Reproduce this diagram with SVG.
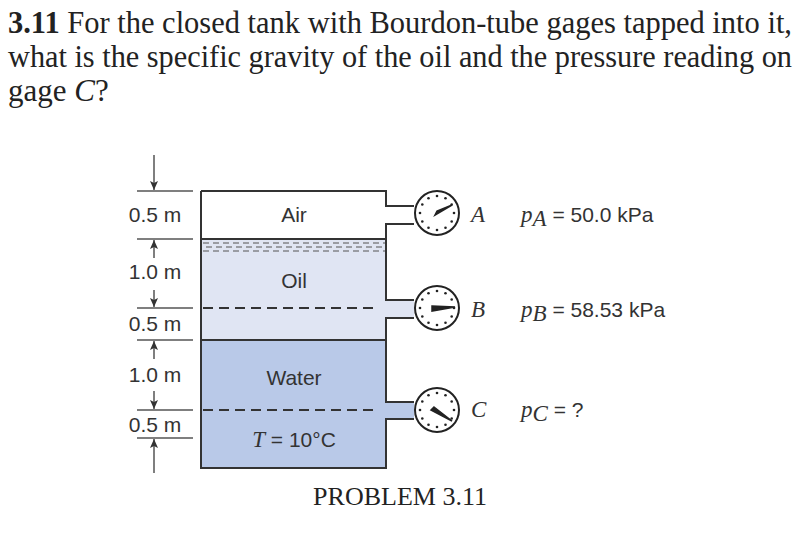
<svg xmlns="http://www.w3.org/2000/svg" width="799" height="542" viewBox="0 0 799 542">
<style>
.t{font-family:"Liberation Serif","Times New Roman",serif;font-size:31px;fill:#222}
.s{font-family:"Liberation Sans",Arial,sans-serif;font-size:21px;fill:#333}
.i{font-family:"Liberation Serif","Times New Roman",serif;font-style:italic;font-size:23px;fill:#333}
.ln{stroke:#333;stroke-width:2;fill:none}
.dm{stroke:#555;stroke-width:1.5;fill:none}
.ds{stroke:#333;stroke-width:1.8;stroke-dasharray:10 6;fill:none}
.g{fill:#fff;stroke:#222;stroke-width:2}
.dot{fill:#222}
</style>
<defs>
<marker id="ar" markerWidth="10" markerHeight="10" refX="9" refY="5" orient="auto" markerUnits="userSpaceOnUse">
<path d="M0,1 L9,5 L0,9 L2,5 Z" fill="#333"/>
</marker>
<g id="gauge">
<circle r="22" class="g"/>
<g class="dot">
<circle cx="0" cy="-17" r="1.3"/><circle cx="8.5" cy="-14.7" r="1.3"/><circle cx="14.7" cy="-8.5" r="1.3"/><circle cx="17" cy="0" r="1.3"/><circle cx="14.7" cy="8.5" r="1.3"/><circle cx="8.5" cy="14.7" r="1.3"/><circle cx="0" cy="17" r="1.3"/><circle cx="-8.5" cy="14.7" r="1.3"/><circle cx="-14.7" cy="8.5" r="1.3"/><circle cx="-17" cy="0" r="1.3"/><circle cx="-14.7" cy="-8.5" r="1.3"/><circle cx="-8.5" cy="-14.7" r="1.3"/>
</g>
</g>
</defs>
<text class="t" x="8" y="33" textLength="784" lengthAdjust="spacingAndGlyphs"><tspan font-weight="bold">3.11</tspan> For the closed tank with Bourdon-tube gages tapped into it,</text>
<text class="t" x="8" y="67" textLength="784" lengthAdjust="spacingAndGlyphs">what is the specific gravity of the oil and the pressure reading on</text>
<text class="t" x="8" y="101">gage <tspan font-style="italic">C</tspan>?</text>

<g id="tank">
<rect x="201" y="239" width="185" height="101" fill="#e0e5f3"/>
<rect x="201" y="340" width="185" height="128" fill="#b9c9e8"/>
<rect x="386" y="300" width="28" height="18" fill="#e0e5f3"/>
<rect x="386" y="402" width="28" height="17" fill="#b9c9e8"/>
<g stroke="#555" stroke-width="1.2" stroke-dasharray="6 4">
<line x1="203" y1="243" x2="385" y2="243"/>
<line x1="206" y1="247" x2="385" y2="247"/>
<line x1="203" y1="251" x2="385" y2="251"/>
</g>
<line class="ln" x1="201" y1="239" x2="386" y2="239"/>
<line class="ln" x1="201" y1="340" x2="386" y2="340"/>
<line class="ds" x1="203" y1="308" x2="378" y2="308"/>
<line class="ds" x1="203" y1="410" x2="378" y2="410"/>
<path class="ln" d="M201,191 V468 H386 V419 H414 M414,402 H386 V318 H414 M414,300 H386 V224 H414 M414,206 H386 V191 H201"/>
</g>
<g id="gaugeA"><use href="#gauge" x="437" y="213"/><path d="M435,215 L452,205 L437,211 Z" fill="#222" stroke="#222" stroke-width="1.5"/></g>
<g id="gaugeB"><use href="#gauge" x="437" y="308"/><path d="M432,306 L455,307 L432,311 Z" fill="#222" stroke="#222" stroke-width="1.5"/></g>
<g id="gaugeC"><use href="#gauge" x="437" y="410"/><path d="M434,407 L452,421 L431,410 Z" fill="#222" stroke="#222" stroke-width="1.5"/></g>

<text class="s" x="294" y="222" text-anchor="middle">Air</text>
<text class="s" x="294" y="288" text-anchor="middle">Oil</text>
<text class="s" x="294" y="385" text-anchor="middle">Water</text>
<text class="s" x="294" y="447" text-anchor="middle"><tspan class="i" font-size="22">T</tspan> = 10°C</text>

<g id="dims">
<g class="dm">
<line x1="137" y1="191" x2="193" y2="191"/>
<line x1="137" y1="239" x2="193" y2="239"/>
<line x1="137" y1="308" x2="193" y2="308"/>
<line x1="137" y1="340" x2="193" y2="340"/>
<line x1="137" y1="410" x2="193" y2="410"/>
<line x1="137" y1="438" x2="193" y2="438"/>
<line x1="154" y1="155" x2="154" y2="190" marker-end="url(#ar)"/>
<line x1="154" y1="258" x2="154" y2="240" marker-end="url(#ar)"/>
<line x1="154" y1="290" x2="154" y2="307" marker-end="url(#ar)"/>
<line x1="154" y1="359" x2="154" y2="341" marker-end="url(#ar)"/>
<line x1="154" y1="391" x2="154" y2="409" marker-end="url(#ar)"/>
<line x1="154" y1="473" x2="154" y2="439" marker-end="url(#ar)"/>
</g>
<text class="s" x="155" y="222" text-anchor="middle">0.5 m</text>
<text class="s" x="155" y="279" text-anchor="middle">1.0 m</text>
<text class="s" x="155" y="331" text-anchor="middle">0.5 m</text>
<text class="s" x="155" y="382" text-anchor="middle">1.0 m</text>
<text class="s" x="155" y="432" text-anchor="middle">0.5 m</text>
</g>

<g id="labels">
<text class="i" x="471" y="222">A</text>
<text class="i" x="471" y="317">B</text>
<text class="i" x="471" y="417">C</text>
<text x="521" y="222"><tspan class="i" font-size="24">p</tspan><tspan class="i" font-size="18" dy="4">A</tspan><tspan class="s" dy="-4"> = 50.0 kPa</tspan></text>
<text x="521" y="317"><tspan class="i" font-size="24">p</tspan><tspan class="i" font-size="18" dy="4">B</tspan><tspan class="s" dy="-4"> = 58.53 kPa</tspan></text>
<text x="521" y="417"><tspan class="i" font-size="24">p</tspan><tspan class="i" font-size="18" dy="4">C</tspan><tspan class="s" dy="-4"> = ?</tspan></text>
</g>
<text x="400" y="505" text-anchor="middle" style="font-family:'Liberation Serif',serif;font-size:26px;fill:#222">PROBLEM 3.11</text>
</svg>
